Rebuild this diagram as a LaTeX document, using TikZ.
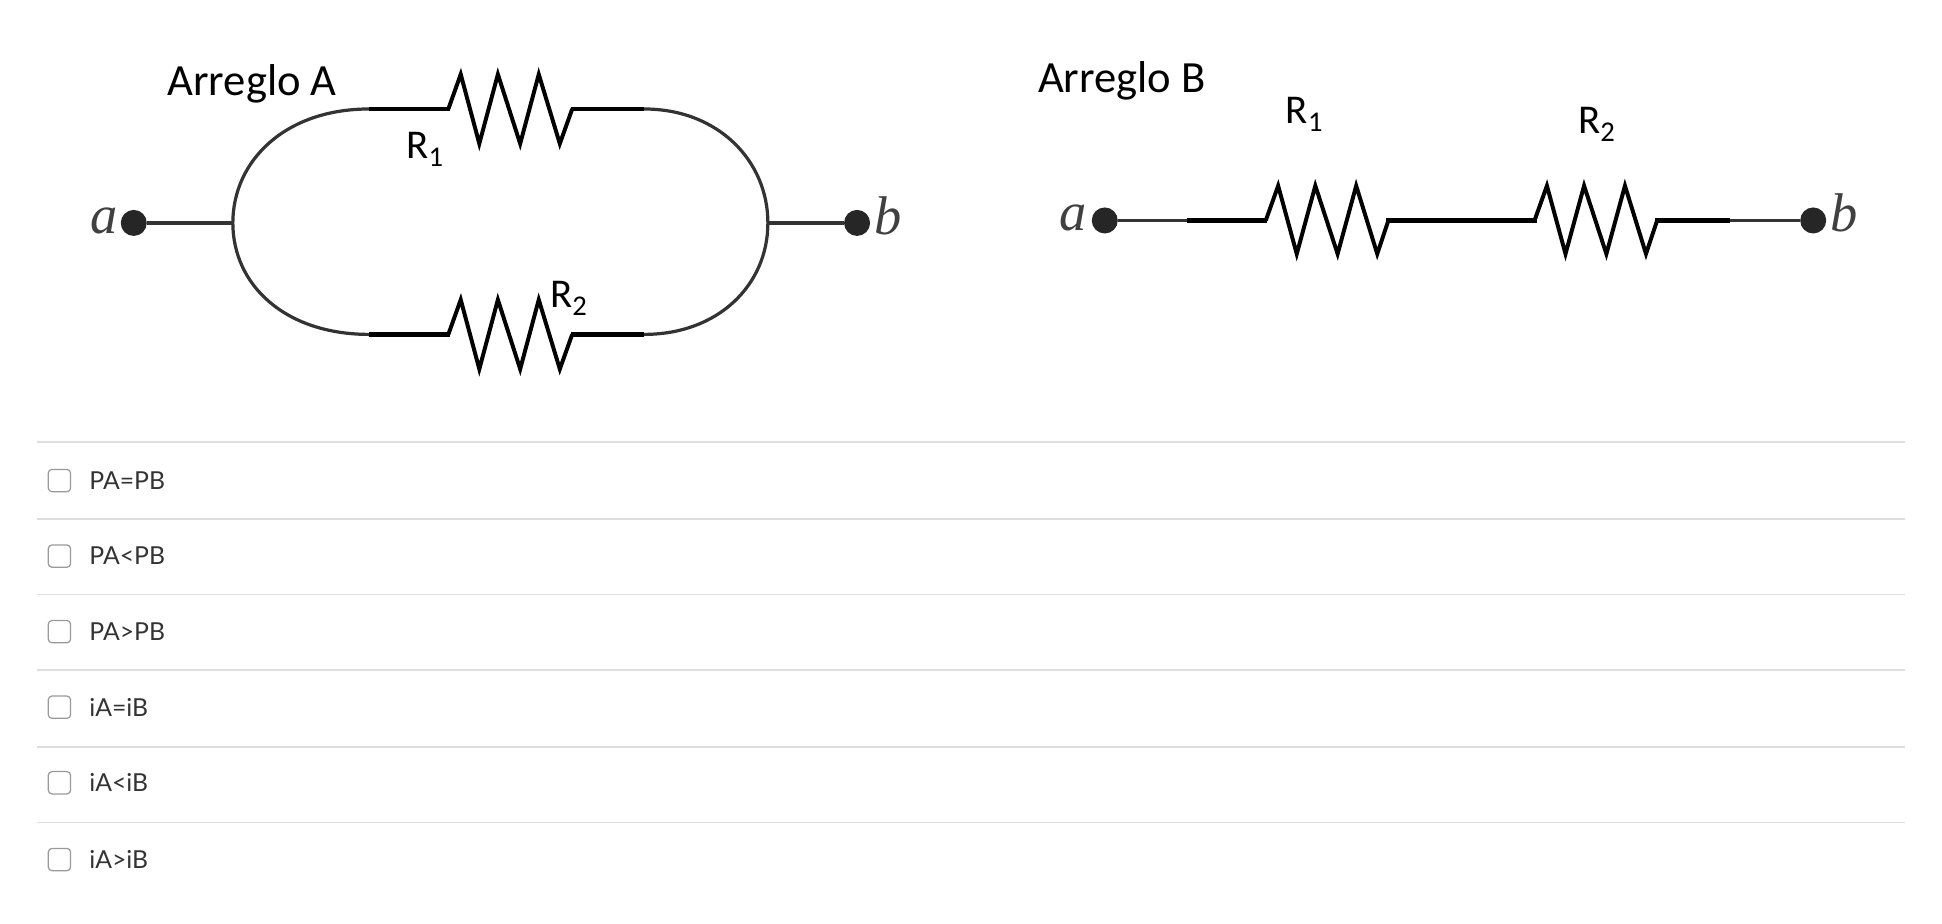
\documentclass[tikz,border=0pt]{standalone}
\usepackage{fontspec}
\setmainfont{Carlito}
\newfontfamily\latofont{Lato}
\newfontfamily\serifit{Liberation Serif}
\begin{document}
\begin{tikzpicture}[x=1pt,y=-1pt,
  thinw/.style={line width=2.6pt,color=black!80},
  thickw/.style={line width=3.6pt,black},
  zz/.style={line width=3.2pt,black,line join=miter},
  dotn/.style={circle,fill=black!85,inner sep=0pt,minimum size=21pt},
  title/.style={font=\fontsize{36}{40}\selectfont,anchor=base west,inner sep=0pt},
  rlab/.style={font=\fontsize{33}{36}\selectfont,anchor=base west,inner sep=0pt},
  term/.style={font=\serifit\itshape\fontsize{44}{48}\selectfont,inner sep=0pt,color=black!75},
  sep/.style={line width=1.2pt,color=black!13},
  cbox/.style={draw=black!40,line width=1pt,rounded corners=3pt,minimum size=18pt,inner sep=0pt},
  opt/.style={font=\latofont\fontsize{20}{24}\selectfont,anchor=west,inner sep=0pt,color=black!80}]
\useasboundingbox (0,0) rectangle (1568,746);
% ---- Arreglo A
\node[title] (tA) at (135,77) {Arreglo A};
\node[dotn] (aA) at (108,180) {};
\node[dotn] (bA) at (692,180) {};
\node[term,anchor=east] (la) at (95,178) {a};
\node[term,anchor=west] (lb) at (706,174) {b};
\coordinate (L) at (188,180);
\coordinate (Rt) at (620,180);
\draw[thinw] (aA) -- (L);
\draw[thinw] (Rt) -- (bA);
\draw[thinw] (298,88) .. controls (230,88) and (188,130) .. (L) .. controls (188,230) and (230,270) .. (298,270);
\draw[thinw] (520,88) .. controls (580,88) and (620,130) .. (Rt) .. controls (620,230) and (580,270) .. (520,270);
\foreach \yc/\nm in {88/ra, 270/rb}{
  \draw[thickw] (298,\yc) -- (363,\yc);
  \draw[thickw] (461,\yc) -- (520,\yc);
  \draw[zz] (362,\yc) -- (372,\yc-28) -- (387,\yc+28) -- (402,\yc-28) -- (420,\yc+28) -- (435,\yc-28) -- (452,\yc+28) -- (462,\yc);
}
\node[rlab] (r1A) at (328,128) {R\textsubscript{1}};
\node[rlab] (r2A) at (444,248) {R\textsubscript{2}};
% ---- Arreglo B
\node[title] (tB) at (838,75) {Arreglo B};
\node[dotn] (aB) at (892,178) {};
\node[dotn] (bB) at (1464,178) {};
\node[term,anchor=east] (la2) at (878,176) {a};
\node[term,anchor=west] (lb2) at (1478,172) {b};
\draw[thinw] (aB) -- (958,178);
\draw[thinw] (1397,178) -- (bB);
\draw[thickw] (958,178) -- (1023,178);
\draw[thickw] (1119,178) -- (1241,178);
\draw[thickw] (1336,178) -- (1397,178);
\foreach \xs in {1022,1239}{
  \draw[zz] (\xs,178) -- (\xs+10,150) -- (\xs+25,205) -- (\xs+40,150) -- (\xs+58,205) -- (\xs+73,150) -- (\xs+90,205) -- (\xs+99,178);
}
\node[rlab] (r1B) at (1038,100) {R\textsubscript{1}};
\node[rlab] (r2B) at (1274,108) {R\textsubscript{2}};
% ---- options
\foreach \y in {357,419,480,541,603,664}{\draw[sep] (30,\y) -- (1538,\y);}
\foreach \y/\t/\n in {388/PA=PB/o1, 449/PA<PB/o2, 510/PA>PB/o3, 571/iA=iB/o4, 632/iA<iB/o5, 694/iA>iB/o6}{
  \node[cbox] (c\n) at (48,\y) {};
  \node[opt] (\n) at (72,\y) {\t};
}
\end{tikzpicture}
\end{document}
